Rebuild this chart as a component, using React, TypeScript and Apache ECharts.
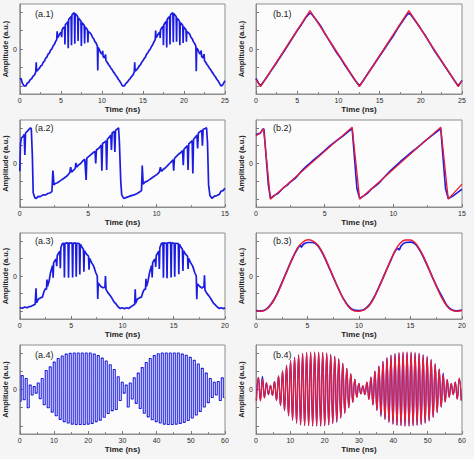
import React, { useEffect, useRef } from 'react';
import * as echarts from 'echarts';

const BLUE = '#1c1ce0';
const RED = '#ee1a30';
const FONT = 'Liberation Sans, Arial, Helvetica, sans-serif';

// ---- (a.1) quantized triangle, 25 ns window ----
const A1: number[][] = [
  [0, -0.82], [0.15, -0.8], [0.3, -0.92], [0.5, -1.0], [0.75, -1.0], [0.9, -0.93], [1.1, -0.9], [1.25, -0.84],
  [1.45, -0.8], [1.6, -0.74], [1.8, -0.7], [1.95, -0.62], [2.0, -0.36], [2.05, -0.6], [2.2, -0.57], [2.4, -0.52],
  [2.55, -0.46], [2.7, -0.44], [2.85, -0.36], [3.0, -0.33], [3.15, -0.25], [3.3, -0.22], [3.45, -0.14], [3.6, -0.11],
  [3.75, -0.03], [3.9, 0.0], [4.05, 0.08], [4.2, 0.12], [4.35, 0.2], [4.5, 0.25], [4.55, 0.48], [4.6, 0.3],
  [4.75, 0.36], [4.9, 0.42], [5.05, 0.46], [5.1, 0.32], [5.15, 0.52], [5.3, 0.58], [5.45, 0.6], [5.5, 0.12],
  [5.55, 0.66], [5.7, 0.7], [5.85, 0.74], [5.9, 0.02], [5.95, 0.8], [6.1, 0.84], [6.25, 0.88], [6.3, 0.1],
  [6.35, 0.92], [6.5, 0.96], [6.65, 0.98], [6.7, 0.14], [6.75, 0.96], [6.9, 0.92], [7.05, 0.88], [7.1, 0.22],
  [7.15, 0.84], [7.3, 0.8], [7.45, 0.76], [7.5, 0.08], [7.55, 0.72], [7.7, 0.68], [7.85, 0.64], [7.9, 0.15],
  [7.95, 0.6], [8.1, 0.56], [8.25, 0.52], [8.3, 0.18], [8.35, 0.48], [8.55, 0.44], [8.7, 0.4], [8.85, 0.32],
  [9.0, 0.28], [9.15, 0.2], [9.3, 0.16], [9.45, 0.08], [9.5, -0.58], [9.55, 0.04], [9.7, -0.02], [9.85, -0.1],
  [10.0, -0.14], [10.1, -0.05], [10.15, -0.2], [10.3, -0.24], [10.45, -0.15], [10.5, -0.32], [10.65, -0.36],
  [10.8, -0.42], [10.95, -0.46], [11.1, -0.52], [11.25, -0.56], [11.4, -0.62], [11.55, -0.66], [11.7, -0.72],
  [11.85, -0.76], [12.0, -0.82], [12.15, -0.86], [12.3, -0.92],
  [12.5, -1.0], [12.75, -1.0], [12.9, -0.94], [13.1, -0.9], [13.25, -0.85], [13.45, -0.8], [13.6, -0.75],
  [13.8, -0.7], [13.95, -0.62], [14.0, -0.36], [14.05, -0.6], [14.2, -0.57], [14.4, -0.52], [14.55, -0.46],
  [14.7, -0.43], [14.85, -0.36], [15.0, -0.32], [15.15, -0.26], [15.3, -0.22], [15.45, -0.14], [15.6, -0.1],
  [15.75, -0.04], [15.9, 0.0], [16.05, 0.07], [16.2, 0.12], [16.35, 0.2], [16.5, 0.25], [16.55, 0.5], [16.6, 0.3],
  [16.75, 0.36], [16.9, 0.42], [17.05, 0.46], [17.1, 0.3], [17.15, 0.52], [17.3, 0.58], [17.45, 0.61], [17.5, 0.1],
  [17.55, 0.66], [17.7, 0.71], [17.85, 0.75], [17.9, 0.04], [17.95, 0.8], [18.1, 0.85], [18.25, 0.88], [18.3, 0.12],
  [18.35, 0.92], [18.5, 0.96], [18.65, 0.98], [18.7, 0.18], [18.75, 0.96], [18.9, 0.92], [19.05, 0.88], [19.1, 0.2],
  [19.15, 0.84], [19.3, 0.8], [19.45, 0.76], [19.5, 0.1], [19.55, 0.72], [19.7, 0.68], [19.85, 0.64], [19.9, 0.16],
  [19.95, 0.6], [20.1, 0.56], [20.25, 0.52], [20.3, 0.2], [20.35, 0.48], [20.55, 0.44], [20.7, 0.4], [20.85, 0.32],
  [21.0, 0.28], [21.15, 0.2], [21.3, 0.15], [21.45, 0.08], [21.5, -0.6], [21.55, 0.03], [21.7, -0.02], [21.85, -0.1],
  [22.0, -0.14], [22.1, -0.04], [22.15, -0.2], [22.3, -0.24], [22.45, -0.14], [22.5, -0.32], [22.65, -0.36],
  [22.8, -0.42], [22.95, -0.46], [23.1, -0.52], [23.25, -0.56], [23.4, -0.62], [23.55, -0.66], [23.7, -0.72],
  [23.85, -0.76], [24.0, -0.82], [24.15, -0.86], [24.3, -0.92], [24.5, -1.0], [24.7, -0.98], [24.85, -0.92], [25, -0.86],
];

// ---- (b.1) reconstructed triangle ----
const B1_BLUE: number[][] = [
  [0, -0.8], [0.3, -0.92], [0.55, -1.0], [1.2, -0.8], [1.8, -0.6], [2.5, -0.37], [3.0, -0.2], [3.5, -0.03],
  [4.0, 0.15], [4.6, 0.36], [5.0, 0.5], [5.5, 0.66], [6.0, 0.84], [6.5, 0.97], [6.7, 0.96], [7.2, 0.82],
  [7.8, 0.64], [8.3, 0.44], [8.8, 0.26], [9.3, 0.08], [9.8, -0.1], [10.3, -0.26], [10.8, -0.44], [11.4, -0.64],
  [12.0, -0.84], [12.55, -1.0], [13.0, -0.86], [13.6, -0.66], [14.2, -0.46], [14.8, -0.26], [15.4, -0.06],
  [16.0, 0.14], [16.6, 0.34], [17.2, 0.56], [17.8, 0.76], [18.3, 0.92], [18.55, 0.97], [18.8, 0.93], [19.3, 0.77],
  [19.9, 0.58], [20.5, 0.38], [21.1, 0.16], [21.7, -0.06], [22.3, -0.26], [22.9, -0.46], [23.5, -0.66],
  [24.1, -0.86], [24.55, -1.0], [25, -0.85],
];
const B1_RED: number[][] = [
  [0, -0.82], [0.55, -1.02], [6.55, 1.04], [12.55, -1.02], [18.55, 1.04], [24.55, -1.02], [25, -0.86],
];

// ---- (a.2) quantized sawtooth, 15 ns window ----
const A2: number[][] = [
  [0, -0.22], [0.05, 0.55], [0.12, 0.72], [0.25, 0.76], [0.32, 0.82], [0.37, 0.24], [0.42, 0.86], [0.55, 0.9],
  [0.65, 0.95], [0.78, 1.0], [0.84, 0.98], [0.92, 0.2], [0.98, -0.82], [1.1, -0.96], [1.2, -0.98], [1.35, -0.92],
  [1.5, -0.93], [1.7, -0.88], [1.9, -0.88], [2.05, -0.84], [2.25, -0.82], [2.35, -0.78], [2.42, -0.2],
  [2.5, -0.6], [2.6, -0.56], [2.75, -0.54], [2.9, -0.5], [3.05, -0.46], [3.2, -0.42], [3.35, -0.38], [3.5, -0.33],
  [3.65, -0.26], [3.72, -0.1], [3.78, -0.24], [3.95, -0.18], [4.05, -0.14], [4.1, 0.02], [4.15, -0.1], [4.3, -0.04],
  [4.45, 0.0], [4.6, 0.07], [4.75, 0.12], [4.85, -0.46], [4.9, 0.15], [5.05, 0.2], [5.2, 0.25], [5.35, 0.3],
  [5.5, 0.34], [5.55, 0.0], [5.6, 0.38], [5.75, 0.42], [5.85, 0.46], [5.95, 0.52], [6.0, -0.2], [6.05, 0.56],
  [6.2, 0.6], [6.3, 0.63], [6.35, -0.18], [6.4, 0.68], [6.55, 0.74], [6.65, 0.8], [6.7, 0.38], [6.75, 0.86],
  [6.9, 0.9], [6.95, 0.32], [7.0, 0.93], [7.15, 0.98], [7.22, 1.0], [7.28, 0.6], [7.38, -0.5], [7.45, -0.88],
  [7.6, -0.98], [7.8, -0.95], [7.95, -0.93], [8.15, -0.9], [8.35, -0.88], [8.55, -0.85], [8.75, -0.8],
  [8.9, -0.76], [8.95, -0.06], [9.02, -0.58], [9.15, -0.52], [9.3, -0.5], [9.45, -0.46], [9.6, -0.42],
  [9.75, -0.38], [9.9, -0.34], [10.05, -0.3], [10.2, -0.24], [10.28, -0.1], [10.35, -0.22], [10.5, -0.16],
  [10.65, -0.12], [10.8, -0.06], [10.95, 0.0], [11.1, 0.06], [11.2, 0.1], [11.25, -0.2], [11.3, 0.14],
  [11.45, 0.2], [11.6, 0.26], [11.75, 0.3], [11.9, 0.36], [11.95, -0.05], [12.0, 0.4], [12.15, 0.46],
  [12.25, 0.5], [12.3, -0.18], [12.35, 0.55], [12.5, 0.6], [12.6, 0.64], [12.65, -0.28], [12.7, 0.68],
  [12.85, 0.74], [12.95, 0.8], [13.0, 0.42], [13.05, 0.85], [13.2, 0.9], [13.3, 0.93], [13.35, 0.5],
  [13.4, 0.96], [13.55, 0.98], [13.65, 1.0], [13.72, 0.6], [13.8, -0.6], [13.9, -0.9], [14.05, -0.98],
  [14.2, -0.92], [14.4, -0.9], [14.6, -0.86], [14.7, -0.78], [14.85, -0.76], [15, -0.7],
];

// ---- (b.2) reconstructed sawtooth ----
const B2_BLUE: number[][] = [
  [0, 0.8], [0.15, 0.84], [0.3, 0.84], [0.5, 0.97], [0.58, 0.96], [0.9, -0.6], [1.05, -0.98], [1.3, -0.9],
  [1.6, -0.84], [2.0, -0.68], [2.3, -0.6], [2.5, -0.52], [2.9, -0.4], [3.3, -0.22], [3.6, -0.1], [3.9, 0.0],
  [4.2, 0.1], [4.6, 0.23], [5.0, 0.36], [5.4, 0.5], [5.8, 0.62], [6.0, 0.68], [6.3, 0.76], [6.6, 0.86],
  [6.9, 0.95], [7.0, 0.98], [7.35, -0.7], [7.55, -0.98], [7.8, -0.92], [8.1, -0.84], [8.4, -0.72], [8.8, -0.6],
  [9.0, -0.53], [9.4, -0.36], [9.8, -0.2], [10.2, -0.06], [10.5, 0.05], [10.9, 0.18], [11.3, 0.31], [11.6, 0.4],
  [12.0, 0.53], [12.4, 0.66], [12.8, 0.78], [13.2, 0.9], [13.45, 0.98], [13.8, -0.7], [14.0, -0.98], [14.3, -0.92],
  [14.6, -0.84], [15, -0.72],
];
const B2_RED: number[][] = [
  [0, 0.78], [0.3, 0.85], [0.55, 0.97], [1.05, -1.0], [7.0, 1.02], [7.55, -1.0], [13.45, 1.02], [14.0, -1.0], [15, -0.58],
];

// ---- (a.3) quantized raised cosine, 20 ns window ----
const A3: number[][] = [
  [0, -0.9], [0.3, -0.91], [0.5, -0.88], [0.7, -0.9], [0.9, -0.87], [1.1, -0.86], [1.3, -0.83], [1.5, -0.8],
  [1.58, -0.35], [1.63, -0.76], [1.8, -0.66], [2.0, -0.62], [2.2, -0.6], [2.35, -0.45], [2.5, -0.36], [2.6, -0.38],
  [2.65, -0.1], [2.7, -0.3], [2.85, -0.15], [3.0, 0.1], [3.1, 0.2], [3.2, 0.3], [3.25, -0.05], [3.3, 0.38],
  [3.45, 0.45], [3.55, 0.48], [3.6, 0.28], [3.65, 0.58], [3.8, 0.66], [3.9, 0.7], [3.95, 0.22], [4.0, 0.8],
  [4.15, 0.92], [4.3, 0.93], [4.35, -0.04], [4.4, 0.93], [4.6, 0.94], [4.7, 0.93], [4.75, -0.05], [4.8, 0.94],
  [5.0, 0.93], [5.1, 0.94], [5.15, -0.04], [5.2, 0.93], [5.45, 0.94], [5.5, -0.02], [5.55, 0.93], [5.8, 0.92],
  [5.85, 0.04], [5.9, 0.9], [6.1, 0.8], [6.2, 0.76], [6.25, 0.12], [6.3, 0.72], [6.5, 0.62], [6.7, 0.56],
  [6.75, 0.18], [6.8, 0.5], [7.0, 0.38], [7.2, 0.28], [7.4, 0.1], [7.55, 0.0], [7.6, -0.65], [7.65, -0.2],
  [7.9, -0.3], [8.1, -0.33], [8.3, -0.32], [8.35, 0.0], [8.4, -0.38], [8.6, -0.48], [8.8, -0.55], [9.0, -0.64],
  [9.2, -0.74], [9.4, -0.8], [9.6, -0.88], [9.8, -0.92], [10.0, -0.9], [10.2, -0.93], [10.4, -0.9], [10.6, -0.92],
  [10.8, -0.88], [11.0, -0.84], [11.2, -0.8], [11.25, -0.38], [11.3, -0.77], [11.45, -0.66], [11.65, -0.62],
  [11.85, -0.6], [12.0, -0.46], [12.15, -0.37], [12.25, -0.38], [12.3, -0.08], [12.35, -0.3], [12.5, -0.14],
  [12.65, 0.1], [12.75, 0.2], [12.85, 0.3], [12.9, -0.04], [12.95, 0.38], [13.1, 0.46], [13.2, 0.48], [13.25, 0.26],
  [13.3, 0.58], [13.45, 0.66], [13.55, 0.7], [13.6, 0.2], [13.65, 0.8], [13.8, 0.92], [13.95, 0.94], [14.0, -0.05],
  [14.05, 0.94], [14.3, 0.93], [14.35, -0.06], [14.4, 0.94], [14.7, 0.95], [14.75, -0.04], [14.8, 0.94],
  [15.05, 0.93], [15.1, -0.02], [15.15, 0.93], [15.45, 0.92], [15.5, 0.05], [15.55, 0.9], [15.75, 0.8],
  [15.85, 0.76], [15.9, 0.14], [15.95, 0.72], [16.15, 0.62], [16.35, 0.56], [16.4, 0.2], [16.45, 0.5],
  [16.65, 0.38], [16.85, 0.28], [17.05, 0.1], [17.2, 0.0], [17.25, -0.66], [17.3, -0.22], [17.55, -0.3],
  [17.75, -0.34], [17.95, -0.3], [18.0, 0.02], [18.05, -0.4], [18.25, -0.5], [18.45, -0.57], [18.65, -0.66],
  [18.85, -0.76], [19.05, -0.82], [19.25, -0.88], [19.45, -0.92], [19.65, -0.9], [19.85, -0.93], [20, -0.9],
];

// ---- (b.3) reconstructed raised cosine ----
const B3_BLUE: number[][] = [
  [0, -0.98], [0.5, -0.99], [1.0, -0.94], [1.5, -0.78], [2.0, -0.53], [2.5, -0.2], [3.0, 0.14], [3.5, 0.48],
  [4.0, 0.76], [4.3, 0.86], [4.4, 0.82], [4.6, 0.9], [5.0, 0.95], [5.5, 0.95], [6.0, 0.86], [6.5, 0.62],
  [7.0, 0.3], [7.5, -0.03], [8.0, -0.36], [8.5, -0.65], [9.0, -0.86], [9.5, -0.97], [10.0, -0.98], [10.5, -0.95],
  [11.0, -0.82], [11.5, -0.58], [12.0, -0.27], [12.5, 0.06], [13.0, 0.39], [13.5, 0.7], [13.8, 0.78], [13.9, 0.74],
  [14.1, 0.86], [14.5, 0.95], [15.0, 0.96], [15.5, 0.9], [16.0, 0.68], [16.5, 0.38], [17.0, 0.05], [17.5, -0.27],
  [17.9, -0.5], [18.0, -0.55], [18.5, -0.82], [19.0, -0.96], [19.5, -0.99], [20, -0.97],
];
const B3_RED: number[][] = [
  [0, -0.99], [0.5, -1.0], [1.0, -0.95], [1.5, -0.8], [2.0, -0.55], [2.5, -0.22], [3.0, 0.13], [3.5, 0.47],
  [4.0, 0.78], [4.5, 0.95], [5.0, 1.03], [5.5, 1.0], [6.0, 0.88], [6.5, 0.64], [7.0, 0.32], [7.5, -0.02],
  [8.0, -0.36], [8.5, -0.66], [9.0, -0.88], [9.5, -0.99], [10.0, -1.0], [10.5, -0.96], [11.0, -0.84], [11.5, -0.6],
  [12.0, -0.28], [12.5, 0.06], [13.0, 0.4], [13.5, 0.72], [14.0, 0.93], [14.5, 1.02], [15.0, 1.02], [15.5, 0.92],
  [16.0, 0.7], [16.5, 0.4], [17.0, 0.06], [17.5, -0.28], [18.0, -0.6], [18.5, -0.84], [19.0, -0.97], [19.5, -1.0],
  [20, -0.98],
];

// ---- row 4: beat signal, one value per half carrier period ----
const ROW4_T0 = 0.12; // ns, time of the first sample
const ROW4_HALF_PERIOD = 0.585; // ns between successive extrema

const A4_LEVELS: number[] = [
  -0.32, 0.38, -0.28, 0.3, -0.5, 0.12, -0.15, 0.08, -0.1, 0.18, -0.25, 0.3, -0.42, 0.52, -0.5, 0.62, -0.62, 0.75,
  -0.72, 0.85, -0.82, 0.92, -0.88, 0.97, -0.92, 0.99, -0.95, 1.0, -0.96, 1.0, -0.96, 1.0, -0.96, 1.0, -0.95, 1.0,
  -0.93, 0.97, -0.88, 0.93, -0.84, 0.86, -0.76, 0.78, -0.66, 0.68, -0.58, 0.55, -0.55, 0.35, -0.3, 0.2, -0.1, 0.12,
  -0.48, 0.18, -0.26, 0.32, -0.38, 0.45, -0.52, 0.6, -0.65, 0.74, -0.75, 0.85, -0.83, 0.93, -0.88, 0.98, -0.92, 1.0,
  -0.95, 1.0, -0.96, 1.0, -0.96, 1.0, -0.95, 1.0, -0.93, 0.97, -0.9, 0.94, -0.85, 0.88, -0.78, 0.8, -0.7, 0.7,
  -0.6, 0.58, -0.48, 0.45, -0.36, 0.3, -0.22, 0.2, -0.15, 0.22, -0.3, 0.32, -0.22,
];

const B4_BLUE_PEAKS: number[] = [
  -0.3, 0.33, -0.3, 0.36, -0.22, 0.18, -0.14, 0.11, -0.16, 0.22, -0.3, 0.37, -0.44, 0.51, -0.58, 0.66, -0.72, 0.79,
  -0.84, 0.88, -0.92, 0.95, -0.97, 0.99, -0.99, 1.0, -0.99, 1.01, -1.0, 1.01, -1.0, 1.01, -1.0, 1.0, -0.99, 0.99,
  -0.97, 0.96, -0.93, 0.91, -0.9, 0.84, -0.78, 0.72, -0.65, 0.58, -0.5, 0.43, -0.35, 0.28, -0.21, 0.16, -0.12, 0.1,
  -0.14, 0.2, -0.27, 0.34, -0.42, 0.5, -0.57, 0.64, -0.74, 0.77, -0.82, 0.87, -0.9, 0.94, -0.95, 0.98, -0.98, 1.0,
  -0.99, 1.01, -1.0, 1.01, -1.0, 1.01, -0.99, 1.0, -0.98, 0.99, -0.96, 0.95, -0.92, 0.9, -0.86, 0.82, -0.76, 0.7,
  -0.63, 0.56, -0.48, 0.45, -0.34, 0.27, -0.21, 0.16, -0.14, 0.2, -0.26, 0.3, -0.3,
];
const B4_RED_PEAKS: number[] = [
  -0.3, 0.33, -0.32, 0.29, -0.24, 0.18, -0.13, 0.11, -0.16, 0.22, -0.3, 0.37, -0.44, 0.51, -0.58, 0.66, -0.72, 0.79,
  -0.84, 0.88, -0.92, 0.95, -0.97, 0.99, -0.99, 1.02, -0.99, 1.03, -1.0, 1.03, -1.0, 1.03, -1.0, 1.02, -0.99, 1.0,
  -0.97, 0.96, -0.93, 0.91, -0.87, 0.84, -0.78, 0.72, -0.65, 0.58, -0.5, 0.43, -0.35, 0.28, -0.21, 0.16, -0.12, 0.1,
  -0.14, 0.2, -0.27, 0.34, -0.42, 0.5, -0.57, 0.64, -0.7, 0.77, -0.82, 0.87, -0.9, 0.94, -0.95, 0.98, -0.98, 1.01,
  -0.99, 1.03, -1.0, 1.03, -1.0, 1.03, -0.99, 1.01, -0.98, 0.99, -0.96, 0.95, -0.92, 0.9, -0.86, 0.82, -0.76, 0.7,
  -0.63, 0.56, -0.48, 0.41, -0.34, 0.27, -0.21, 0.16, -0.14, 0.2, -0.26, 0.31, -0.3,
];

const toRow4Points = (vals: number[]) => vals.map((v, k) => [ROW4_T0 + k * ROW4_HALF_PERIOD, v]);

// ---- layout of the 2x4 panel grid ----
const COL_LEFT = [19, 256];
const PANEL_W = 206;
const ROW_TOP = [4, 120, 233, 345];
const ROW_H = [90, 87, 86, 89];
const LABEL_Y = [14, 128, 241, 355];
const LABEL_X = [35, 273];

const ROW_XMAX = [25, 15, 20, 60];
const ROW_XSTEP = [5, 5, 5, 10];

type Trace = { data: number[][]; color: string; width: number; smooth?: number; step?: string };
type Panel = { tag: string; row: number; col: number; traces: Trace[] };

const PANELS: Panel[] = [
  { tag: '(a.1)', row: 0, col: 0, traces: [{ data: A1, color: BLUE, width: 1.7 }] },
  { tag: '(b.1)', row: 0, col: 1, traces: [{ data: B1_BLUE, color: BLUE, width: 1.7 }, { data: B1_RED, color: RED, width: 1.3 }] },
  { tag: '(a.2)', row: 1, col: 0, traces: [{ data: A2, color: BLUE, width: 1.7 }] },
  { tag: '(b.2)', row: 1, col: 1, traces: [{ data: B2_BLUE, color: BLUE, width: 1.6 }, { data: B2_RED, color: RED, width: 1.3 }] },
  { tag: '(a.3)', row: 2, col: 0, traces: [{ data: A3, color: BLUE, width: 1.7 }] },
  { tag: '(b.3)', row: 2, col: 1, traces: [{ data: B3_BLUE, color: BLUE, width: 1.7, smooth: 0.3 }, { data: B3_RED, color: RED, width: 1.4, smooth: 0.3 }] },
  { tag: '(a.4)', row: 3, col: 0, traces: [{ data: toRow4Points(A4_LEVELS), color: BLUE, width: 1.1, step: 'middle' }] },
  {
    tag: '(b.4)', row: 3, col: 1, traces: [
      { data: toRow4Points(B4_BLUE_PEAKS), color: BLUE, width: 1.3, smooth: 0.5 },
      { data: toRow4Points(B4_RED_PEAKS), color: RED, width: 1.2, smooth: 0.5 },
    ],
  },
];

const AXIS_COLOR = '#8e8e8e';
const TEXT_COLOR = '#2a2a2a';

function buildOption() {
  const grid: any[] = [];
  const xAxis: any[] = [];
  const yAxis: any[] = [];
  const series: any[] = [];
  const graphic: any[] = [];

  PANELS.forEach((p, i) => {
    grid.push({
      left: COL_LEFT[p.col],
      top: ROW_TOP[p.row],
      width: PANEL_W,
      height: ROW_H[p.row],
      show: true,
      borderColor: AXIS_COLOR,
      borderWidth: 1,
      backgroundColor: '#fcfcfc',
    });
    xAxis.push({
      gridIndex: i,
      type: 'value',
      min: 0,
      max: ROW_XMAX[p.row],
      interval: ROW_XSTEP[p.row],
      axisLine: { show: true, onZero: false, lineStyle: { color: AXIS_COLOR, width: 1 } },
      axisTick: { show: true, inside: true, length: 3, lineStyle: { color: '#777' } },
      minorTick: { show: true, splitNumber: 2, length: 2, lineStyle: { color: '#888' } },
      splitLine: { show: false },
      minorSplitLine: { show: false },
      axisLabel: { fontSize: 7, margin: 3, color: TEXT_COLOR, fontFamily: FONT },
      name: 'Time (ns)',
      nameLocation: 'middle',
      nameGap: 11,
      nameTextStyle: { fontSize: 8, fontWeight: 'bold', color: '#222', fontFamily: FONT },
    });
    yAxis.push({
      gridIndex: i,
      type: 'value',
      min: -1.22,
      max: 1.22,
      axisLine: { show: true, onZero: false, lineStyle: { color: AXIS_COLOR, width: 1 } },
      axisTick: { show: true, inside: true, length: 3, customValues: [-1, -0.5, 0, 0.5, 1], lineStyle: { color: '#777' } },
      splitLine: { show: false },
      axisLabel: { customValues: [0], fontSize: 7, margin: 3, color: TEXT_COLOR, fontFamily: FONT },
      name: 'Amplitude (a.u.)',
      nameLocation: 'middle',
      nameGap: 8,
      nameTextStyle: { fontSize: 7.5, fontWeight: 'bold', color: '#222', fontFamily: FONT },
    });
    p.traces.forEach((t) => {
      series.push({
        type: 'line',
        xAxisIndex: i,
        yAxisIndex: i,
        data: t.data,
        showSymbol: false,
        symbol: 'none',
        smooth: t.smooth ?? false,
        step: t.step ?? false,
        clip: true,
        lineStyle: { color: t.color, width: t.width },
        itemStyle: { color: t.color },
        emphasis: { disabled: true },
        silent: true,
      });
    });
    graphic.push({
      type: 'text',
      x: LABEL_X[p.col],
      y: LABEL_Y[p.row],
      style: {
        text: p.tag,
        fontSize: 9,
        fontFamily: FONT,
        fill: '#222',
        verticalAlign: 'middle',
      },
    });
  });

  return {
    animation: false,
    backgroundColor: '#f5f5f5',
    textStyle: { fontFamily: FONT },
    grid,
    xAxis,
    yAxis,
    series,
    graphic,
  };
}

export default function App() {
  const ref = useRef<HTMLDivElement>(null);
  useEffect(() => {
    if (!ref.current) return;
    const chart = echarts.init(ref.current, undefined, { renderer: 'svg' });
    chart.setOption(buildOption() as any);
    return () => chart.dispose();
  }, []);
  return (
    <div
      ref={ref}
      style={{ position: 'fixed', left: 0, top: 0, width: 474, height: 459 }}
    />
  );
}
